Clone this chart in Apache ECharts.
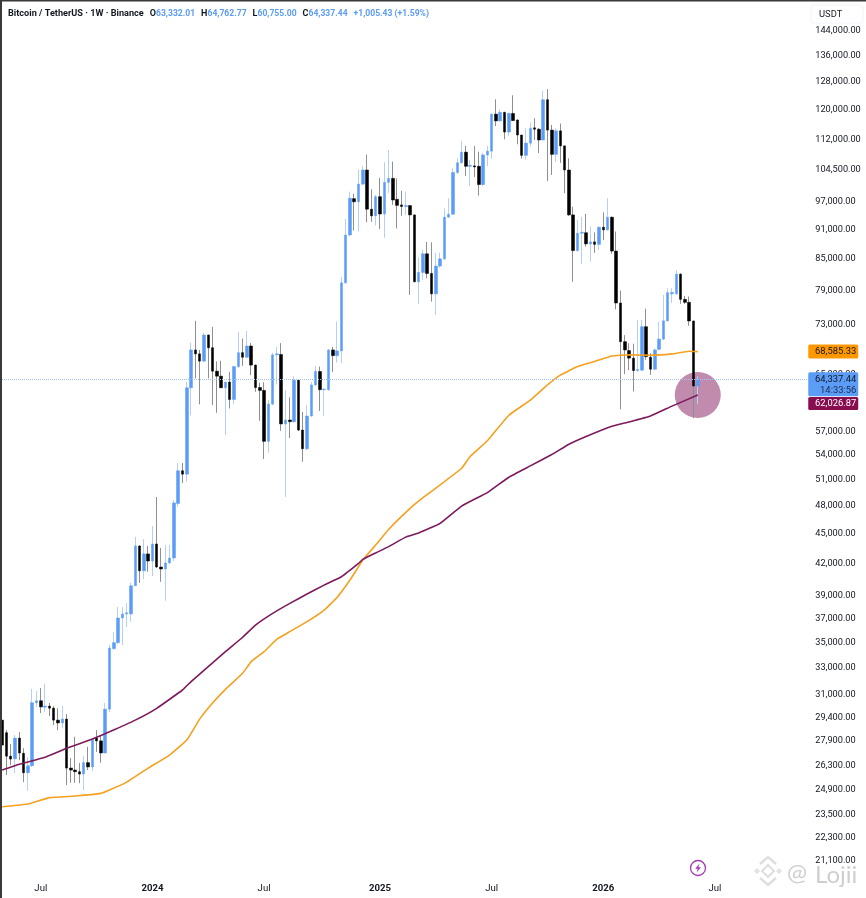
<!DOCTYPE html>
<html><head><meta charset="utf-8">
<style>html,body{margin:0;padding:0;background:#fff}#c{width:866px;height:898px}</style>
<script src="https://cdn.jsdelivr.net/npm/echarts@6/dist/echarts.min.js"></script>
</head><body><div id="c"></div>
<script>
const opens=[29240,28400,26900,26740,28050,27080,25890,26310,30440,30580,
30130,30200,30060,29240,29050,29310,26170,26050,25950,25810,
26500,26240,28050,27870,27100,29990,34500,34980,37030,37380,
37380,39900,43750,41310,42950,42250,43950,41670,41480,42060,
42550,48270,52060,51650,63080,68850,68230,67090,71270,69200,
65550,64800,63080,63920,61400,66250,68420,67700,69480,66480,
63120,62700,55730,60740,68070,68130,58020,58550,58320,64200,
57200,54780,59090,63500,65500,62800,62800,68850,67950,68700,
80420,89820,97700,97000,101050,104400,95350,93900,98150,94300,
101450,102400,97550,96300,95950,96150,94100,80620,82380,86000,
82180,78400,83600,85000,93600,94250,103800,106150,108800,105300,
105400,105300,100950,108100,109050,118800,116950,119300,113980,119000,
117200,113200,108000,111100,115100,114720,111900,122830,114500,108250,
114300,110400,104400,94100,86650,90200,90300,88000,88400,87900,
91450,90900,93600,86550,76750,70180,68750,67560,65650,65700,
72650,67700,65850,68950,70600,73650,78400,78400,82050,77400,
76870,73620,63332.01];
const closes=[27600,26900,26720,28050,27100,25890,26310,30440,30580,30150,
30200,30060,29240,29050,29310,26170,26050,25950,25810,26500,
26240,27980,27870,27100,29990,34550,34980,37030,37380,37480,
39900,43750,41310,42950,42250,43950,41670,41480,42060,42550,
48330,52060,51650,63080,68850,68230,67090,71270,69200,65550,
64800,63080,63920,61400,66250,68420,67700,69480,66480,63120,
62700,55730,60740,68070,68230,58020,58550,58320,64200,57200,
54780,59090,63500,65500,62800,62870,68850,67950,68700,80420,
89820,97800,97000,101050,104400,95350,93900,98150,94300,101450,
102400,97400,96200,95950,96150,94100,80620,82380,86000,82180,
78400,83600,85000,93600,94250,103800,106150,108800,105300,105550,
105130,100950,108100,109050,118800,116950,119300,113980,119000,117050,
113200,108000,111100,114950,114720,111900,122830,114500,108250,114300,
110400,104400,94100,86650,90200,90400,88000,88400,87900,91450,
90900,93600,86550,76750,70180,68850,67560,65650,65800,72650,
67800,65850,68850,70600,73650,78600,78650,82050,77400,76870,
73620,63332,64337.44];
const highs=[29580,28570,27660,28250,28440,27400,26850,31430,31280,31500,
31800,30420,30200,30060,30200,29650,26780,28130,26480,26900,
27490,28050,28570,28240,30420,34790,35850,37980,37980,38340,
40180,44680,43800,44450,43750,45800,49000,43550,43850,43850,
48650,53000,53000,63950,70000,73650,68850,71650,71350,72640,
67050,67150,63950,65450,66350,71800,70700,71950,69950,66580,
63830,63900,61300,68420,69350,69950,62700,61700,64800,64350,
59650,60600,63950,66350,66250,63080,69000,69350,73500,81480,
93200,99300,98800,104570,105400,108200,99850,98550,102550,106300,
109350,106450,102400,99500,99300,96300,94150,85300,86800,88400,
88300,86250,86250,95550,97800,104800,107250,111700,110400,106850,
110400,108900,108650,110400,119000,122950,120100,119450,119200,124100,
117400,113300,115000,116450,117700,115050,125400,125900,115850,114950,
116250,110450,107250,95900,93000,93700,94300,91600,90350,91650,
94650,97800,93750,90550,79000,71250,69950,69850,73800,73800,
75750,68350,69100,73500,78200,79400,79400,82800,82200,78000,
77900,73700,64762.77];
const lows=[27280,25750,26350,25870,26660,25330,24830,26240,30130,29720,
29790,29510,28910,28570,28700,25160,25290,25290,25270,24870,
26050,25990,27170,26490,27080,29790,34390,34880,34790,36270,
36710,39880,40170,40520,41220,40800,41570,40270,38540,42000,
42250,47900,50600,50770,59200,64480,60710,67000,64480,60600,
59530,63050,56550,60140,60740,66040,66350,67600,64950,62500,
58450,53500,54270,60600,63550,57100,49000,56150,58200,57100,
53150,54600,59000,63350,59800,59090,62650,65450,66880,66770,
80270,89600,90750,90550,100800,92500,92600,91850,91050,89250,
99000,96300,91200,93900,94100,78200,80500,76600,80950,81250,
77000,74650,83250,84800,93500,94100,103450,106000,102950,100600,
102700,98400,100650,105300,107250,115560,116800,112100,112950,116950,
110800,107200,106950,110300,111900,108600,111750,101750,103200,106400,
106150,98950,93900,80600,86450,84000,87450,84450,86200,86800,
88800,90750,86000,75620,60000,65100,65700,62550,65450,65600,
67300,65000,65700,68850,70450,73500,76750,78200,76600,76600,
72800,58800,60755];
const orangeWeeks=[0,6,11,17,23,25,29,34,39,43,46,49,52,56,58,61,64,67,71,75,78,81,84,87,90,95,98,102,107,109,113,118,123,127,130,134,138,142,146,151,156,160,162];
const orangeVals=[23930,24080,24440,24530,24680,24870,25330,26170,26970,27920,29310,30420,31400,32590,33480,34260,35260,35880,36720,37720,38840,40430,42350,43850,45450,47720,48920,50380,52360,53800,55800,59200,61300,63500,64950,66250,67050,67900,68100,68000,68230,68650,68585.33];
const maroonWeeks=[0,4,10,15,21,25,31,36,42,44,48,52,56,59,63,67,71,75,79,83,84,87,90,94,97,102,107,113,118,123,128,132,136,142,146,151,156,162];
const maroonVals=[26050,26400,26830,27390,27990,28460,29240,30050,31350,31970,33090,34260,35420,36430,37430,38310,39140,39960,40740,42020,42410,43050,43680,44650,45070,46100,47980,49500,51290,52650,54050,55350,56350,57700,58290,59100,60460,62026.87];
const priceTicks=[144000,136000,128000,120000,112000,104500,97000,91000,85000,79000,73000,65000,57000,54000,51000,48000,45000,42000,39000,37000,35000,33000,31000,29400,27900,26300,24900,23500,22300,21100];
const timeTickDates=['2023-07-03','2024-01-01','2024-07-01','2025-01-06','2025-07-07','2026-01-05','2026-07-06'];
const timeTickLabels=['Jul','2024','Jul','2025','Jul','2026','Jul'];
const firstWeek='2023-05-01';
const slotCount=188;
const categories=[];
for(let i=0;i<slotCount;i++){categories.push(new Date(Date.parse(firstWeek+'T00:00:00Z')+i*7*864e5).toISOString().slice(0,10));}
const lastPrice=64337.44, maOrangeLast=68585.33, maMaroonLast=62026.87, countdown='14:33:56';
const headerName='Bitcoin / TetherUS · 1W · Binance';
const fmt=v=>v.toLocaleString('en-US',{minimumFractionDigits:2,maximumFractionDigits:2});
const FONT='Roboto, sans-serif';
const BLUE='#5b9cf6';
const chart=echarts.init(document.getElementById('c'),null,{renderer:'canvas',width:866,height:898});
const hdr=(k,v)=>`{k|${k}}{v|${v}}`;
const gap='{g| }';
chart.setOption({
  animation:false,
  backgroundColor:'#ffffff',
  title:[{
    left:3,top:4,
    text:`{n|${headerName}}`+gap+hdr('O',fmt(opens[162]))+gap+hdr('H',fmt(highs[162]))+gap+hdr('L',fmt(lows[162]))+gap+hdr('C',fmt(closes[162]))+gap+'{v|+1,005.43 (+1.59%)}',
    textStyle:{fontSize:9.2,fontFamily:FONT,rich:{
      n:{fontFamily:FONT,fontSize:9.15,color:'#131722'},
      k:{fontFamily:FONT,fontSize:9,color:'#131722'},
      v:{fontFamily:FONT,fontSize:8.6,color:'#5b9cf6'},
      g:{width:6,fontSize:9.15}
    }}
  }],
  grid:{left:-1.15,top:1,width:188*4.3,height:876,containLabel:false},
  xAxis:{type:'category',data:categories,boundaryGap:true,
    axisLine:{show:false},axisTick:{show:false},splitLine:{show:false},
    axisLabel:{margin:7,color:'#131722',fontFamily:FONT,fontSize:9.6,hideOverlap:false,
      interval:(i,v)=>timeTickDates.includes(v),
      formatter:v=>{const j=timeTickDates.indexOf(v);if(j<0)return '';const t=timeTickLabels[j];return t==='Jul'?t:`{b|${t}}`;},
      rich:{b:{fontFamily:FONT,fontSize:9.6,fontWeight:'bold',color:'#131722'}}}
  },
  yAxis:{type:'log',logBase:10,position:'right',min:20340,max:154350,
    axisLine:{show:false},axisTick:{show:false},splitLine:{show:false},minorTick:{show:false},minorSplitLine:{show:false},
    axisLabel:{show:true,margin:8,padding:[3,0,0,0],color:'#131722',fontFamily:FONT,fontSize:9.2,customValues:priceTicks,formatter:v=>fmt(Math.round(v))}
  },
  series:[
    {type:'scatter',name:'highlight',z:1,silent:true,symbol:'circle',symbolSize:46,clip:false,
      itemStyle:{color:'rgba(130,24,90,0.5)',opacity:1},data:[[162,maMaroonLast]]},
    {type:'candlestick',name:'wicks',z:2,barWidth:1,silent:true,
      itemStyle:{color:'rgba(0,0,0,0)',color0:'rgba(0,0,0,0)',borderColor:'#b5d0f8',borderColor0:'#8f8f8f',borderWidth:1},
      data:opens.map((o,i)=>[o,closes[i],lows[i],highs[i]])},
    {type:'candlestick',name:'bodies',z:3,barWidth:3,silent:true,
      itemStyle:{color:BLUE,color0:'#000000',borderColor:BLUE,borderColor0:'#000000',borderWidth:0.5},
      data:opens.map((o,i)=>{const c=closes[i];return [o,c,Math.min(o,c),Math.max(o,c)];}),
      markLine:{silent:true,symbol:'none',animation:false,label:{show:false},
        lineStyle:{type:'dotted',color:'#9cc4f7',width:1},data:[{yAxis:lastPrice}]}},
    {type:'line',name:'MA long',z:4,showSymbol:false,smooth:0.1,silent:true,lineStyle:{color:'#f5a01e',width:1.6},
      data:orangeWeeks.map((k,j)=>[k,orangeVals[j]])},
    {type:'line',name:'MA longer',z:5,showSymbol:false,smooth:0.1,silent:true,lineStyle:{color:'#7d1a5e',width:1.6},
      data:maroonWeeks.map((k,j)=>[k,maroonVals[j]])},
    {type:'custom',name:'price tags',z:6,silent:true,clip:false,coordinateSystem:'cartesian2d',
      data:[[162,maOrangeLast],[162,lastPrice],[162,maMaroonLast]],
      renderItem:(params,api)=>{
        const y=api.coord([api.value(0),api.value(1)])[1];
        const x=params.coordSys.x+params.coordSys.width+1;
        const w=50;
        const idx=params.dataIndex;
        const box=(top,h,fill)=>({type:'rect',shape:{x,y:top,width:w,height:h,r:1.5},style:{fill}});
        const txt=(t,cy,fill)=>({type:'text',style:{x:x+w-2,y:cy,text:t,fill,font:'9.4px '+FONT,textAlign:'right',textVerticalAlign:'middle'}});
        if(idx===0)return {type:'group',children:[box(y-7,14,'#ff9800'),txt(fmt(maOrangeLast),y,'#131722')]};
        if(idx===1)return {type:'group',children:[box(y-7,24,BLUE),txt(fmt(lastPrice),y,'#131722'),txt(countdown,y+11,'#1d2b4f')]};
        return {type:'group',children:[box(y+2,13,'#880e4f'),txt(fmt(maMaroonLast),y+8.5,'#ffffff')]};
      }}
  ],
  graphic:[
    {type:'rect',z:50,shape:{x:0,y:0,width:866,height:1.4},style:{fill:'#3a3a3a'}},
    {type:'rect',z:50,shape:{x:0,y:0,width:2,height:898},style:{fill:'#3a3a3a'}},
    {type:'rect',z:40,shape:{x:811,y:5,width:52,height:18,r:3},style:{fill:'#fff',stroke:'#f0f3fa',lineWidth:1}},
    {type:'text',z:41,style:{x:819,y:14.5,text:'USDT',fill:'#131722',font:'9.4px '+FONT,textVerticalAlign:'middle'}},
    {type:'circle',z:40,shape:{cx:698,cy:868,r:7.5},style:{fill:'none',stroke:'#a23bb5',lineWidth:1.3}},
    {type:'polygon',z:41,shape:{points:[[699.5,863.5],[695.2,868.8],[697.7,868.8],[696.6,872.6],[700.9,867.2],[698.4,867.2]]},style:{fill:'#a23bb5'}},
    {type:'polygon',z:40,shape:{points:[[768,865],[774,871],[768,877],[762,871]]},style:{fill:'none',stroke:'#dedede',lineWidth:2}},
    {type:'polyline',z:40,shape:{points:[[760,864],[768,857],[776,864]]},style:{fill:'none',stroke:'#dedede',lineWidth:2.4}},
    {type:'polyline',z:40,shape:{points:[[760,878],[768,885],[776,878]]},style:{fill:'none',stroke:'#dedede',lineWidth:2.4}},
    {type:'polygon',z:40,shape:{points:[[757,868],[760,871],[757,874],[754,871]]},style:{fill:'#e2e2e2'}},
    {type:'polygon',z:40,shape:{points:[[779,868],[782,871],[779,874],[776,871]]},style:{fill:'#e2e2e2'}},
    {type:'text',z:40,style:{x:787,y:873,text:'@',fill:'#cfcfcf',font:'24px Lato, sans-serif',textVerticalAlign:'middle'}},
    {type:'text',z:40,style:{x:815,y:875,text:'Lojii',fill:'#cfcfcf',font:'24px Lato, sans-serif',textVerticalAlign:'middle'}}
  ]
});
</script></body></html>
